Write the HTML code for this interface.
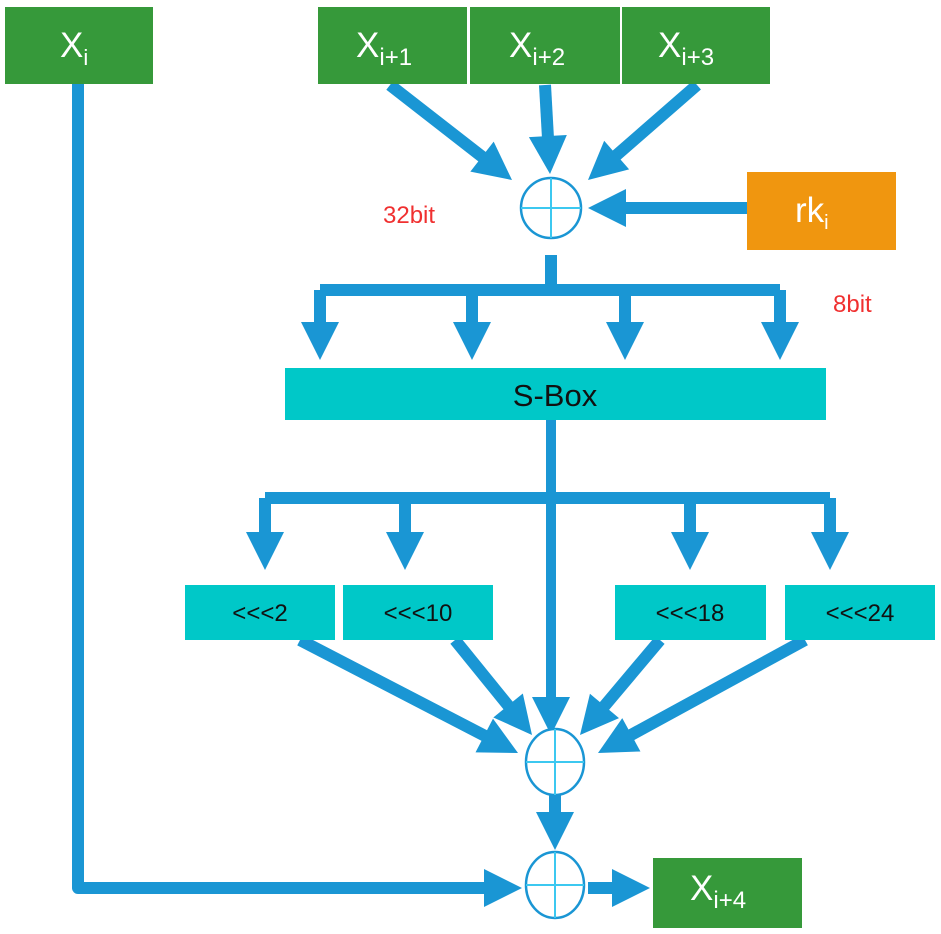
<!DOCTYPE html>
<html><head><meta charset="utf-8"><style>
html,body{margin:0;padding:0;background:#fff;}
svg{display:block;}
text{font-family:"Liberation Sans",sans-serif;}
</style></head><body>
<svg id="s" width="941" height="934" viewBox="0 0 941 934" xmlns="http://www.w3.org/2000/svg">
<g id="arrows" fill="#1a96d4" stroke="#1a96d4"></g>
<rect x="5" y="7" width="148" height="77" fill="#36993a"/>
<rect x="318" y="7" width="149" height="77" fill="#36993a"/>
<rect x="470" y="7" width="150" height="77" fill="#36993a"/>
<rect x="622" y="7" width="148" height="77" fill="#36993a"/>
<rect x="747" y="172" width="149" height="78" fill="#f0960f"/>
<rect x="285" y="368" width="541" height="52" fill="#00c8c8"/>
<rect x="185" y="585" width="150" height="55" fill="#00c8c8"/>
<rect x="343" y="585" width="150" height="55" fill="#00c8c8"/>
<rect x="615" y="585" width="151" height="55" fill="#00c8c8"/>
<rect x="785" y="585" width="150" height="55" fill="#00c8c8"/>
<rect x="653" y="858" width="149" height="70" fill="#36993a"/>
<g fill="#fff" font-size="35">
<text x="60" y="57">X<tspan font-size="22" dy="8">i</tspan></text>
<text x="356" y="57">X<tspan font-size="24" dy="8">i+1</tspan></text>
<text x="509" y="57">X<tspan font-size="24" dy="8">i+2</tspan></text>
<text x="658" y="57">X<tspan font-size="24" dy="8">i+3</tspan></text>
<text x="795" y="222">rk<tspan font-size="20" dy="7">i</tspan></text>
<text x="690" y="900">X<tspan font-size="24" dy="8">i+4</tspan></text>
</g>
<text x="555" y="406" font-size="31" text-anchor="middle" fill="#111">S-Box</text>
<g font-size="24" fill="#111" text-anchor="middle">
<text x="260" y="621">&lt;&lt;&lt;2</text>
<text x="418" y="621">&lt;&lt;&lt;10</text>
<text x="690" y="621">&lt;&lt;&lt;18</text>
<text x="860" y="621">&lt;&lt;&lt;24</text>
</g>
<g font-size="24" fill="#f03030">
<text x="383" y="223">32bit</text>
<text x="833" y="312">8bit</text>
</g>
<g fill="#fff" stroke="#1a96d4" stroke-width="2.5">
<ellipse cx="551" cy="208" rx="30" ry="30"/>
<ellipse cx="555" cy="762" rx="29" ry="33"/>
<ellipse cx="555" cy="885" rx="29" ry="33"/>
</g>
<g stroke="#3cc8f0" stroke-width="2">
<line x1="521" y1="208" x2="581" y2="208"/><line x1="551" y1="178" x2="551" y2="238"/>
<line x1="526" y1="762" x2="584" y2="762"/><line x1="555" y1="729" x2="555" y2="795"/>
<line x1="526" y1="885" x2="584" y2="885"/><line x1="555" y1="852" x2="555" y2="918"/>
</g>
</svg>
<script>
var g=document.getElementById('arrows'),NS='http://www.w3.org/2000/svg';
function line(pts,w){var p=document.createElementNS(NS,'polyline');p.setAttribute('points',pts.map(a=>a.join(',')).join(' '));p.setAttribute('fill','none');p.setAttribute('stroke-width',w||12);p.setAttribute('stroke-linejoin','round');g.appendChild(p);}
function arrow(pts,w){var n=pts.length,t=pts[n-1],f=pts[n-2];var dx=t[0]-f[0],dy=t[1]-f[1],L=Math.hypot(dx,dy);dx/=L;dy/=L;var hl=38,hw=19;var b=[t[0]-dx*hl,t[1]-dy*hl];var q=pts.slice(0,n-1).concat([[b[0]+dx*2,b[1]+dy*2]]);line(q,w);var h=document.createElementNS(NS,'polygon');h.setAttribute('points',[t,[b[0]-dy*hw,b[1]+dx*hw],[b[0]+dy*hw,b[1]-dx*hw]].map(a=>a.join(',')).join(' '));h.setAttribute('stroke','none');g.appendChild(h);}
arrow([[390,85],[512,180]]);
arrow([[545,85],[550,174]]);
arrow([[697,85],[588,180]]);
arrow([[747,208],[588,208]]);
line([[551,255],[551,290]]);
line([[320,290],[780,290]]);
[320,472,625,780].forEach(x=>arrow([[x,290],[x,360]]));
arrow([[551,420],[551,735]],10);
line([[265,498],[830,498]]);
[265,405,690,830].forEach(x=>arrow([[x,498],[x,570]]));
arrow([[300,640],[518,753]]);
arrow([[455,640],[532,735]]);
arrow([[660,640],[580,735]]);
arrow([[805,640],[598,753]]);
arrow([[555,795],[555,850]]);
arrow([[78,84],[78,888],[522,888]]);
arrow([[588,888],[650,888]]);
</script>
</body></html>
